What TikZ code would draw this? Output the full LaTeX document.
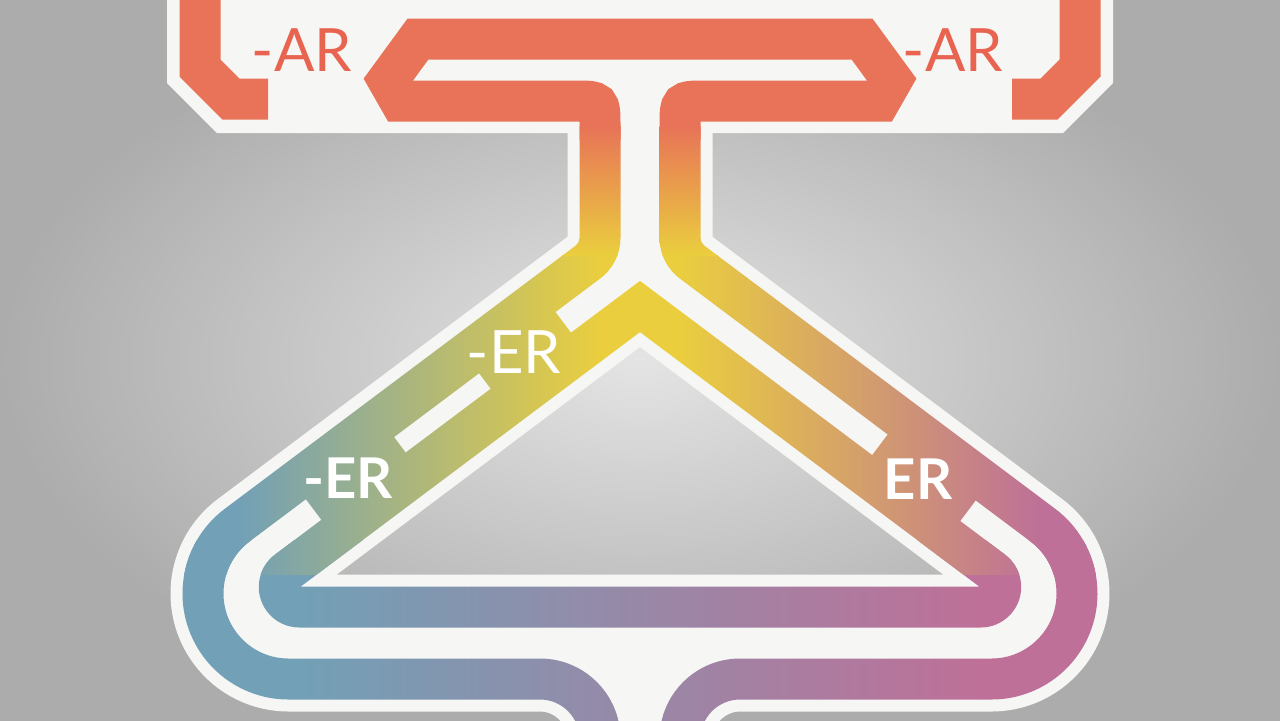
\documentclass[tikz,border=0pt]{standalone}
\usepackage{fontspec}
\setmainfont{Lato}

\definecolor{bgin}{RGB}{228,228,228}
\definecolor{bgout}{RGB}{172,172,172}
\definecolor{sticker}{RGB}{246,246,245}
\definecolor{ccoral}{RGB}{232,115,88}
\definecolor{corange}{RGB}{234,162,74}
\definecolor{cyellow}{RGB}{234,206,62}
\definecolor{colive}{RGB}{176,192,108}
\definecolor{cteal}{RGB}{114,160,182}
\definecolor{cpurple}{RGB}{145,135,178}
\definecolor{csalmon}{RGB}{226,142,100}
\definecolor{cpink}{RGB}{190,112,152}
\definecolor{artext}{RGB}{232,100,80}

\tikzset{
  lane/.style={line width=4.1mm, line join=miter},
  dashmark/.style={draw=sticker, line width=1.9mm},
  arlabel/.style={text=artext, font=\fontsize{17pt}{17pt}\selectfont, inner sep=0},
  erlabel/.style={text=white, font=\fontsize{17pt}{17pt}\selectfont, inner sep=0},
  erbold/.style={text=white, font=\fontsize{16pt}{16pt}\selectfont\bfseries, inner sep=0},
}

% colours of the track, by region
\newcommand\colorfield{%
  \fill[cteal] (0,540) rectangle (300,770);
  \shade[left color=cteal, middle color=cpurple, right color=cpink] (300,540) rectangle (980,770);
  \fill[cpink] (980,540) rectangle (1280,770);
  \begin{scope}
    \clip (0,255) -- (640,255) -- (640,350) -- (330,575) -- (0,575) -- cycle;
    \fill[cteal] (0,255) rectangle (240,575);
    \shade[left color=cteal, middle color=colive, right color=cyellow] (240,255) rectangle (600,575);
    \fill[cyellow] (600,255) rectangle (640,575);
  \end{scope}
  \begin{scope}
    \clip (640,255) -- (1280,255) -- (1280,575) -- (950,575) -- (640,350) -- cycle;
    \fill[cyellow] (640,255) rectangle (680,575);
    \shade[left color=cyellow, middle color=csalmon, right color=cpink] (680,255) rectangle (1040,575);
    \fill[cpink] (1040,255) rectangle (1280,575);
  \end{scope}
  \fill[ccoral] (0,-20) rectangle (1280,126);
  \shade[top color=ccoral, middle color=corange, bottom color=cyellow] (0,126) rectangle (1280,255);
}

\begin{document}
\begin{tikzpicture}[x=0.1mm, y=-0.1mm]
\useasboundingbox (0,0) rectangle (1280,720);
\shade[inner color=bgin, outer color=bgout] (0,0) rectangle (1280,720);

% sticker
\fill[sticker] (167,-10) -- (1113,-10) -- (1113,83) -- (1063,133) -- (217,133) -- (167,83) -- cycle;
\draw[sticker, line width=6.5mm, line join=round] (600,120) -- (600,253) -- (237.2,525.1) arc[start angle=233.13, end angle=90, radius=85.5] -- (540,679) .. controls (573,679) and (600,706) .. (600,740) -- (680,740) .. controls (680,706) and (707,679) .. (740,679) -- (991.5,679) arc[start angle=90, end angle=-53.13, radius=85.5] -- (680,253) -- (680,120) -- cycle;
\fill[sticker, even odd rule] (600,120) -- (600,253) -- (237.2,525.1) arc[start angle=233.13, end angle=90, radius=85.5] -- (540,679) .. controls (573,679) and (600,706) .. (600,740) -- (680,740) .. controls (680,706) and (707,679) .. (740,679) -- (991.5,679) arc[start angle=90, end angle=-53.13, radius=85.5] -- (680,253) -- (680,120) -- cycle
  (640,347) -- (336.8,574.5) -- (943.2,574.5) -- cycle;

% top tracks
\draw[lane, ccoral] (600,140) -- (600,126) .. controls (600,101) .. (575,101) -- (400,101) -- (388,80) -- (418,39) -- (862,39) -- (892,80) -- (880,101) -- (705,101) .. controls (680,101) .. (680,126) -- (680,140);
\draw[lane, ccoral] (200,-10) -- (200,68) -- (231,99) -- (268,99);
\draw[lane, ccoral] (1080,-10) -- (1080,68) -- (1049,99) -- (1012,99);

% left track
\begin{scope}
  \clip (579.5,126) -- (579.5,238) arc[start angle=0, end angle=53.13, radius=9.5] -- (224.9,508.7) arc[start angle=233.13, end angle=90, radius=106] -- (540,699.5) arc[start angle=-90, end angle=0, radius=39.5] -- (579.5,770) -- (620.5,770) -- (620.5,739) arc[start angle=0, end angle=-90, radius=80.5] -- (288.5,658.5) arc[start angle=90, end angle=233.13, radius=65] -- (600.3,278.4) arc[start angle=53.13, end angle=0, radius=50.5] -- (620.5,126) -- cycle;
  \colorfield
\end{scope}
% right track
\begin{scope}
  \clip (700.5,126) -- (700.5,238) arc[start angle=180, end angle=126.87, radius=9.5] -- (1055.1,508.7) arc[start angle=-53.13, end angle=90, radius=106] -- (740,699.5) arc[start angle=-90, end angle=-180, radius=39.5] -- (700.5,770) -- (659.5,770) -- (659.5,739) arc[start angle=-180, end angle=-90, radius=80.5] -- (991.5,658.5) arc[start angle=90, end angle=-53.13, radius=65] -- (679.7,278.4) arc[start angle=126.87, end angle=180, radius=50.5] -- (659.5,126) -- cycle;
  \colorfield
\end{scope}
% inner triangle track
\begin{scope}
  \clip (640,280.9) -- (275,554.6) arc[start angle=233.13, end angle=90, radius=40.5] -- (980.7,627.5) arc[start angle=90, end angle=-53.13, radius=40.5] -- cycle
    (640,332.1) -- (979.2,586.5) -- (300.8,586.5) -- cycle;
  \colorfield
\end{scope}
% lane between on the arms
\begin{scope}
  \clip (554.8,311.1) -- (571.6,333.5) -- (322,520.7) -- (305.2,498.3) -- cycle;
  \colorfield
\end{scope}
\begin{scope}
  \clip (888.4,433.5) -- (871.6,455.9) -- (959.6,521.9) -- (976.4,499.5) -- cycle;
  \colorfield
\end{scope}

\draw[dashmark] (484.8,381.1) -- (400,444.7);

\node[arlabel] (arleft) at (302,50) {-AR};
\node[arlabel] (arright) at (953,50) {-AR};
\node[erlabel] (erupper) at (514,352) {-ER};
\node[erbold] (erlower) at (348,478) {-ER};
\node[erbold] (erright) at (918,479) {ER};
\end{tikzpicture}
\end{document}
